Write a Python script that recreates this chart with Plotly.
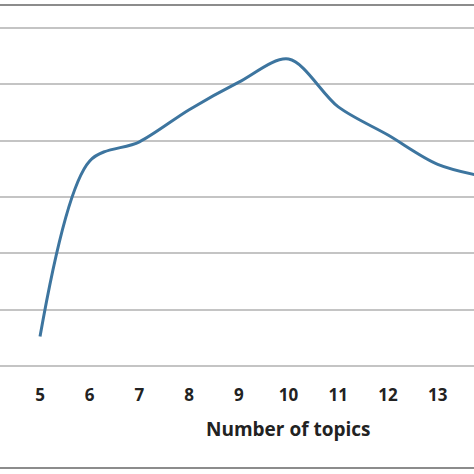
import plotly.graph_objects as go

# liczba tematow i wartosci (skala wzgledna, siatka co 1)
topics = [5, 6, 7, 8, 9, 10, 11, 12, 13, 14]
score = [0.52, 3.64, 3.98, 4.55, 5.04, 5.45, 4.6, 4.1, 3.58, 3.35]
tick_labels = ["5", "6", "7", "8", "9", "10", "11", "12", "13", "14"]

fig = go.Figure()
fig.add_trace(go.Scatter(x=topics, y=score, mode='lines',
                         line=dict(color='#3d759f', width=3, shape='spline', smoothing=0.9),
                         showlegend=False))

fig.update_layout(
    width=474, height=474,
    margin=dict(l=0, r=0, t=5, b=107),
    paper_bgcolor='white', plot_bgcolor='white',
    font=dict(family='Open Sans', color='#222222'),
    xaxis=dict(range=[4.195, 13.73], tickvals=topics, ticktext=tick_labels,
               showgrid=False, zeroline=False, showline=False,
               ticks='', ticklabelstandoff=16,
               tickfont=dict(size=17, family='Open Sans', color='#222222', weight='bold')),
    yaxis=dict(range=[-0.02, 6.41], dtick=1, showticklabels=False,
               showgrid=True, gridcolor='#c4c4c4', gridwidth=1.5,
               zeroline=False, showline=False),
)

# tytul osi x
fig.add_annotation(text="<b>Number of topics</b>", xref='x', yref='paper',
                   x=10, y=-0.172, yanchor='middle', showarrow=False,
                   font=dict(size=19, family='Open Sans', color='#222222'))

# ramka wykresu (gora i dol)
fig.add_shape(type='line', xref='paper', yref='paper', x0=0, x1=1, y0=1, y1=1,
              line=dict(color='#8c8c8c', width=2))
fig.add_shape(type='line', xref='paper', yref='paper', x0=0, x1=1, y0=-0.279, y1=-0.279,
              line=dict(color='#8c8c8c', width=2))

# bez marginesu strony, zeby wykres zaczynal sie w rogu okna
fig.write_html("out.html", config={'displayModeBar': False},
               post_script="document.body.style.margin='0';")
